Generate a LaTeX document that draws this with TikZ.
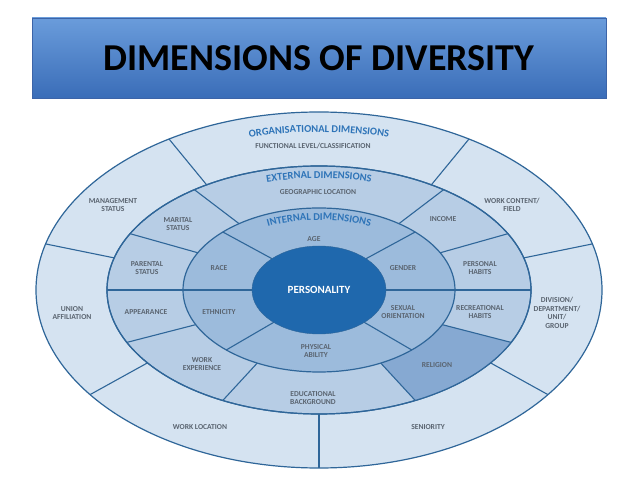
\documentclass[tikz,border=0pt]{standalone}
\usepackage{fontspec}
\setmainfont{Carlito}
\usetikzlibrary{decorations.text,shapes.geometric}
\definecolor{ringO}{HTML}{D5E3F1}
\definecolor{ringE}{HTML}{B7CDE5}
\definecolor{ringI}{HTML}{9CBBDC}
\definecolor{relig}{HTML}{86A9D2}
\definecolor{pers}{HTML}{1F68AD}
\definecolor{edge}{HTML}{2F6699}
\definecolor{lab}{HTML}{5A6470}
\definecolor{head}{HTML}{2E74B8}
\definecolor{ttop}{HTML}{6A9CDB}
\definecolor{tbot}{HTML}{3A6DB8}
\definecolor{tedge}{HTML}{3C64A8}
\begin{document}
\begin{tikzpicture}[x=1pt,y=-1pt,
  lbl/.style={font=\fontsize{7.6}{8.6}\selectfont\bfseries, text=lab, align=center, inner sep=0},
  div/.style={draw=edge, line width=1.1pt},
  hd/.style={decorate, decoration={text along path, text align=center, text={#1}}}]
\useasboundingbox (0,0) rectangle (638,478);
\fill[white] (0,0) rectangle (638,478);
% title
\shade[top color=ttop, bottom color=tbot, draw=tedge] (32,18) rectangle (606,98);
\node (title) at (319,58) {\fontsize{38}{40}\selectfont\bfseries DIMENSIONS OF DIVERSITY};
% ellipses
\def\cx{319}\def\cy{290}
\draw[fill=ringO, draw=edge, line width=1.2pt] (\cx,\cy) ellipse[x radius=283, y radius=178];
\draw[fill=ringE, draw=edge, line width=1.2pt] (\cx,\cy) ellipse[x radius=212, y radius=124];
% religion sector
\fill[relig] plot[domain=297:335, samples=20] ({\cx+136*cos(\x)},{\cy-82*sin(\x)})
  -- plot[domain=335:297, samples=20] ({\cx+212*cos(\x)},{\cy-124*sin(\x)}) -- cycle;
\draw[edge, line width=1.2pt] (\cx,\cy) ellipse[x radius=212, y radius=124];
\draw[fill=ringI, draw=edge, line width=1.2pt] (\cx,\cy) ellipse[x radius=136, y radius=82];
% dividers
\foreach \t in {0,45,135,180,227,313}
  \draw[div] ({\cx+66*cos(\t)},{\cy-44*sin(\t)}) -- ({\cx+136*cos(\t)},{\cy-82*sin(\t)});
\foreach \t in {0,27,54,126,153,180,205,243,297,335}
  \draw[div] ({\cx+136*cos(\t)},{\cy-82*sin(\t)}) -- ({\cx+212*cos(\t)},{\cy-124*sin(\t)});
\foreach \t in {15,58,122,165,216,270,324}
  \draw[div] ({\cx+212*cos(\t)},{\cy-124*sin(\t)}) -- ({\cx+283*cos(\t)},{\cy-178*sin(\t)});
\node[ellipse, fill=pers, draw=edge, minimum width=134, minimum height=88, inner sep=0, text=white, font=\fontsize{11}{12}\selectfont\bfseries] (p) at (\cx,\cy) {PERSONALITY};
% headings
\path[hd={|\fontsize{10.5}{11}\selectfont\bfseries\color{head}|ORGANISATIONAL DIMENSIONS}] plot[domain=112:68, samples=40] ({\cx+262*cos(\x)},{\cy-158*sin(\x)});
\path[hd={|\fontsize{10.5}{11}\selectfont\bfseries\color{head}|EXTERNAL DIMENSIONS}] plot[domain=115:65, samples=40] ({\cx+192*cos(\x)},{\cy-112*sin(\x)});
\path[hd={|\fontsize{10.5}{11}\selectfont\bfseries\color{head}|INTERNAL DIMENSIONS}] plot[domain=135:45, samples=40] ({\cx+120*cos(\x)},{\cy-70*sin(\x)});
% labels
\node[lbl] (f) at (313,146) {FUNCTIONAL LEVEL/CLASSIFICATION};
\node[lbl] (ms) at (113,205) {MANAGEMENT\\STATUS};
\node[lbl] (wc) at (512,205) {WORK CONTENT/\\FIELD};
\node[lbl] (ua) at (72,313) {UNION\\AFFILIATION};
\node[lbl] (dv) at (557,313) {DIVISION/\\DEPARTMENT/\\UNIT/\\GROUP};
\node[lbl] (wl) at (200,427) {WORK LOCATION};
\node[lbl] (sn) at (428,427) {SENIORITY};
\node[lbl] (gl) at (318,192) {GEOGRAPHIC LOCATION};
\node[lbl] (mar) at (178,224) {MARITAL\\STATUS};
\node[lbl] (inc) at (443,219) {INCOME};
\node[lbl] (par) at (147,268) {PARENTAL\\STATUS};
\node[lbl] (ph) at (480,268) {PERSONAL\\HABITS};
\node[lbl] (ap) at (146,312) {APPEARANCE};
\node[lbl] (rh) at (480,312) {RECREATIONAL\\HABITS};
\node[lbl] (we) at (202,364) {WORK\\EXPERIENCE};
\node[lbl] (rel) at (437,365) {RELIGION};
\node[lbl] (ed) at (313,398) {EDUCATIONAL\\BACKGROUND};
\node[lbl] (age) at (314,239) {AGE};
\node[lbl] (race) at (219,268) {RACE};
\node[lbl] (gen) at (403,268) {GENDER};
\node[lbl] (eth) at (219,312) {ETHNICITY};
\node[lbl] (so) at (403,312) {SEXUAL\\ORIENTATION};
\node[lbl] (pa) at (316,351) {PHYSICAL\\ABILITY};
\end{tikzpicture}
\end{document}
